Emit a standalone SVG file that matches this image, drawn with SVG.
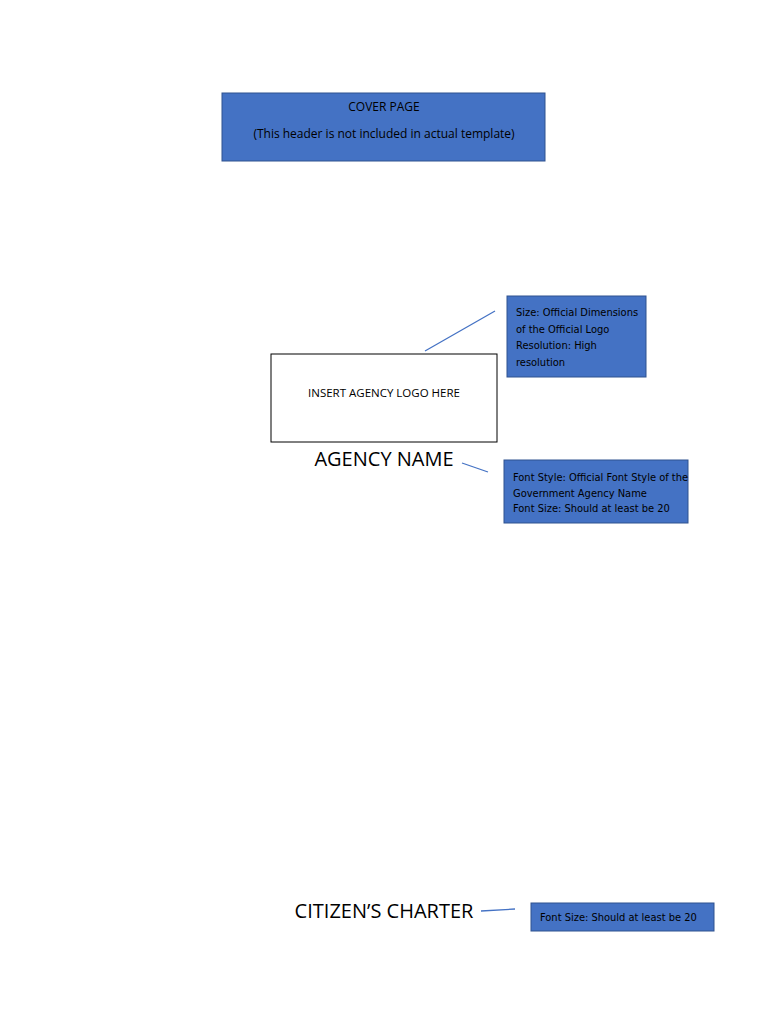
<svg xmlns="http://www.w3.org/2000/svg" width="768" height="1024" viewBox="0 0 768 1024">
<style>
.blue{fill:#4472C4;stroke:#2F528F;stroke-width:1}
.t{font-family:"Open Sans","Liberation Sans",sans-serif;fill:#000}
.n{font-family:"Liberation Sans Narrow","DejaVu Sans Condensed","Liberation Sans",sans-serif;font-size:11px;fill:#000}
.c{stroke:#4472C4;stroke-width:1.3;fill:none}
</style>
<rect width="768" height="1024" fill="#fff"/>
<g id="cover">
<rect class="blue" x="222" y="93" width="323" height="68"/>
<text class="t" x="384" y="111" font-size="12" text-anchor="middle">COVER PAGE</text>
<text class="t" x="384" y="138" font-size="12" text-anchor="middle">(This header is not included in actual template)</text>
</g>
<g id="logo">
<rect x="271" y="354" width="226" height="88" fill="#fff" stroke="#000" stroke-width="1"/>
<text class="t" x="384" y="397" font-size="11.5" text-anchor="middle">INSERT AGENCY LOGO HERE</text>
</g>
<g id="note-logo">
<rect class="blue" x="507" y="296" width="139" height="81"/>
<text class="n" x="516" y="316">Size: Official Dimensions</text>
<text class="n" x="516" y="333">of the Official Logo</text>
<text class="n" x="516" y="349">Resolution: High</text>
<text class="n" x="516" y="366">resolution</text>
</g>
<g id="agency-name">
<text class="t" x="384" y="466" font-size="20" text-anchor="middle">AGENCY NAME</text>
</g>
<g id="note-name">
<rect class="blue" x="504" y="460" width="184" height="63"/>
<text class="n" x="513" y="481">Font Style: Official Font Style of the</text>
<text class="n" x="513" y="497">Government Agency Name</text>
<text class="n" x="513" y="512">Font Size: Should at least be 20</text>
</g>
<g id="charter">
<text class="t" x="384" y="918" font-size="20" text-anchor="middle">CITIZEN’S CHARTER</text>
</g>
<g id="note-charter">
<rect class="blue" x="531" y="903" width="183" height="28"/>
<text class="n" x="540" y="921">Font Size: Should at least be 20</text>
</g>
<g id="connectors">
<line class="c" x1="425" y1="351" x2="495" y2="311"/>
<line class="c" x1="462" y1="463" x2="488" y2="472"/>
<line class="c" x1="481" y1="911" x2="515" y2="909"/>
</g>
</svg>
